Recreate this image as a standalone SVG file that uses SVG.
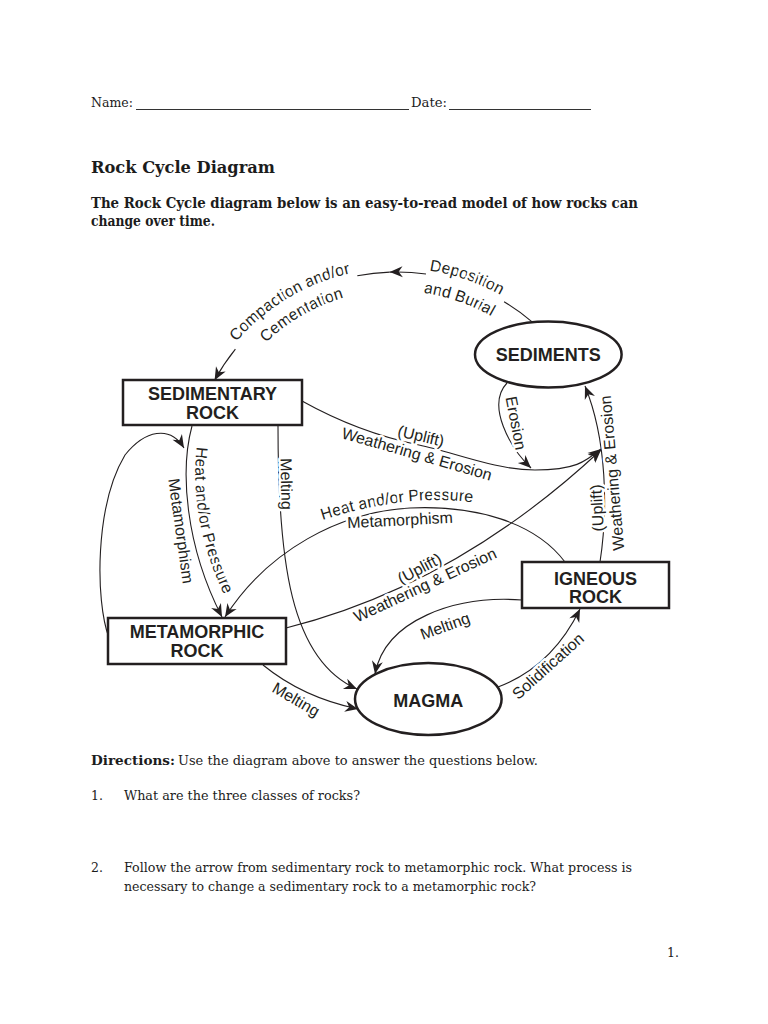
<svg xmlns="http://www.w3.org/2000/svg" width="768" height="1024" viewBox="0 0 768 1024">
<style>
.bg{fill:#fff}
.hd{font-family:"DejaVu Serif","Liberation Serif",serif;fill:#1c1c1c}
.hb{font-weight:bold}
.rule{stroke:#333;stroke-width:1}
.n rect,.n ellipse{fill:#fff;stroke:#231f20;stroke-width:2.5}
.nt{font-family:"Liberation Sans",Arial,sans-serif;font-weight:bold;font-size:18px;fill:#231f20;text-anchor:middle}
.c{fill:none;stroke:#231f20;stroke-width:1.1}
.a{marker-end:url(#ah)}
.lb{font-family:"Liberation Sans",Arial,sans-serif;font-size:16px;fill:#231f20;stroke:#fff;stroke-width:5px;stroke-linejoin:round;paint-order:stroke;text-anchor:middle}
</style>
<defs>
<marker id="ah" viewBox="-14 -6 15 12" refX="0" refY="0" markerWidth="15" markerHeight="12" markerUnits="userSpaceOnUse" orient="auto">
<path d="M0,0 L-13,-5.5 L-9,0 L-13,5.5 Z" fill="#231f20"/>
</marker>
<path id="g1" d="M185,483.7 A212 212 0 0 1 499.8,294.6"/>
<path id="g2" d="M207,480 A190 190 0 0 1 492,315.5"/>
<path id="g3" d="M257.9,320 A212 212 0 0 1 605.1,439.55"/>
<path id="g4" d="M273,337.4 A189 189 0 0 1 582.5,443.9"/>
<path id="g5" d="M201,425 C189,470 194,540 231,608"/>
<path id="g6" d="M300,528 Q415,485 500,508"/>
</defs>
<rect class="bg" x="0" y="0" width="768" height="1024"/>

<g id="header">
<text class="hd" x="91" y="107" font-size="13.5" textLength="42" lengthAdjust="spacingAndGlyphs">Name:</text>
<line class="rule" x1="136" y1="109.5" x2="409" y2="109.5"/>
<text class="hd" x="411" y="107" font-size="13.5" textLength="36" lengthAdjust="spacingAndGlyphs">Date:</text>
<line class="rule" x1="449" y1="109.5" x2="591" y2="109.5"/>
<text class="hd hb" x="91" y="173" font-size="17.5" textLength="184" lengthAdjust="spacingAndGlyphs">Rock Cycle Diagram</text>
<text class="hd hb" x="91" y="208" font-size="14.5" textLength="547" lengthAdjust="spacingAndGlyphs">The Rock Cycle diagram below is an easy-to-read model of how rocks can</text>
<text class="hd hb" x="91" y="226" font-size="14.5" textLength="124" lengthAdjust="spacingAndGlyphs">change over time.</text>
</g>

<g id="connectors">
<path class="c" d="M532.1,321.8 A208 208 0 0 0 504.1,301.7"/>
<path class="c a" d="M426,274 A208 208 0 0 0 389.7,272.1"/>
<path class="c" d="M389.7,272.1 A208 208 0 0 0 357.3,275.8"/>
<path class="c a" d="M235.4,349.1 A208 208 0 0 0 214.6,380.2"/>
<path class="c a" d="M507,383 C486,405 510,448 531,468"/>
<path class="c a" d="M302,401 C345,425 385,438 419,445 S495,470 535,470 S585,462 601,449"/>
<path class="c a" d="M600,562 C608,510 607,440 585,386"/>
<path class="c a" d="M286,628 C350,612 470,572 601,450"/>
<path class="c a" d="M565,562 C535,522 475,505 410,508 C340,512 268,550 225,617"/>
<path class="c a" d="M192,426 C180,470 185,545 222,617"/>
<path class="c a" d="M109,638 C95,600 95,505 125,455 C145,430 170,425 184,448"/>
<path class="c a" d="M278,426 C278,560 290,660 357,689"/>
<path class="c a" d="M263,665 C285,683 315,700 358,709"/>
<path class="c a" d="M522,600 C455,595 385,620 375,674"/>
<path class="c a" d="M498,687 C530,675 560,650 580,609"/>
</g>

<g id="labels">
<text class="lb"><textPath href="#g1" startOffset="50%">Compaction and/or</textPath></text>
<text class="lb"><textPath href="#g2" startOffset="50%">Cementation</textPath></text>
<text class="lb"><textPath href="#g3" startOffset="50%">Deposition</textPath></text>
<text class="lb"><textPath href="#g4" startOffset="50%">and Burial</textPath></text>
<text class="lb" transform="translate(516,423) rotate(79)" y="5.5">Erosion</text>
<text class="lb" transform="translate(421,436) rotate(13)" y="5.5">(Uplift)</text>
<text class="lb" transform="translate(417,454) rotate(16)" y="5.5">Weathering &amp; Erosion</text>
<text class="lb" transform="translate(597,508) rotate(-93)" y="5.5">(Uplift)</text>
<text class="lb" transform="translate(612,473) rotate(-95)" y="5.5">Weathering &amp; Erosion</text>
<text class="lb"><textPath href="#g5" startOffset="52%">Heat and/or Pressure</textPath></text>
<text class="lb" transform="translate(181,531) rotate(82)" y="5.5">Metamorphism</text>
<text class="lb" transform="translate(286.5,484) rotate(89)" y="5.5">Melting</text>
<text class="lb"><textPath href="#g6" startOffset="49%">Heat and/or Pressure</textPath></text>
<text class="lb" transform="translate(400,520) rotate(-3)" y="5.5">Metamorphism</text>
<text class="lb" transform="translate(419.5,568.5) rotate(-28)" y="5.5">(Uplift)</text>
<text class="lb" transform="translate(425,585) rotate(-25)" y="5.5">Weathering &amp; Erosion</text>
<text class="lb" transform="translate(296,699.5) rotate(30)" y="5.5">Melting</text>
<text class="lb" transform="translate(445,626) rotate(-20)" y="5.5">Melting</text>
<text class="lb" transform="translate(548,666) rotate(-42)" y="5.5">Solidification</text>
</g>

<g id="sediments" class="n">
<ellipse cx="548.3" cy="354.5" rx="73.3" ry="33"/>
<text class="nt" x="548.3" y="361">SEDIMENTS</text>
</g>
<g id="sedimentary-rock" class="n">
<rect x="123" y="380" width="179" height="45"/>
<text class="nt" x="212.5" y="400">SEDIMENTARY</text>
<text class="nt" x="212.5" y="419">ROCK</text>
</g>
<g id="metamorphic-rock" class="n">
<rect x="108" y="618" width="178" height="46"/>
<text class="nt" x="197" y="638">METAMORPHIC</text>
<text class="nt" x="197" y="657">ROCK</text>
</g>
<g id="igneous-rock" class="n">
<rect x="522" y="562" width="147" height="46"/>
<text class="nt" x="595.5" y="585">IGNEOUS</text>
<text class="nt" x="595.5" y="603">ROCK</text>
</g>
<g id="magma" class="n">
<ellipse cx="428.3" cy="699" rx="73.3" ry="36"/>
<text class="nt" x="428.3" y="707">MAGMA</text>
</g>

<g id="questions">
<text class="hd" x="91" y="765" font-size="12.5"><tspan class="hb" textLength="84" lengthAdjust="spacingAndGlyphs">Directions:</tspan></text>
<text class="hd" x="178" y="765" font-size="12.5" textLength="360" lengthAdjust="spacingAndGlyphs">Use the diagram above to answer the questions below.</text>
<text class="hd" x="91" y="800" font-size="12.5">1.</text>
<text class="hd" x="124" y="800" font-size="12.5" textLength="236" lengthAdjust="spacingAndGlyphs">What are the three classes of rocks?</text>
<text class="hd" x="91" y="872" font-size="12.5">2.</text>
<text class="hd" x="124" y="872" font-size="12.5" textLength="508" lengthAdjust="spacingAndGlyphs">Follow the arrow from sedimentary rock to metamorphic rock. What process is</text>
<text class="hd" x="124" y="891" font-size="12.5" textLength="412" lengthAdjust="spacingAndGlyphs">necessary to change a sedimentary rock to a metamorphic rock?</text>
<text class="hd" x="667" y="957" font-size="12.5">1.</text>
</g>
</svg>
